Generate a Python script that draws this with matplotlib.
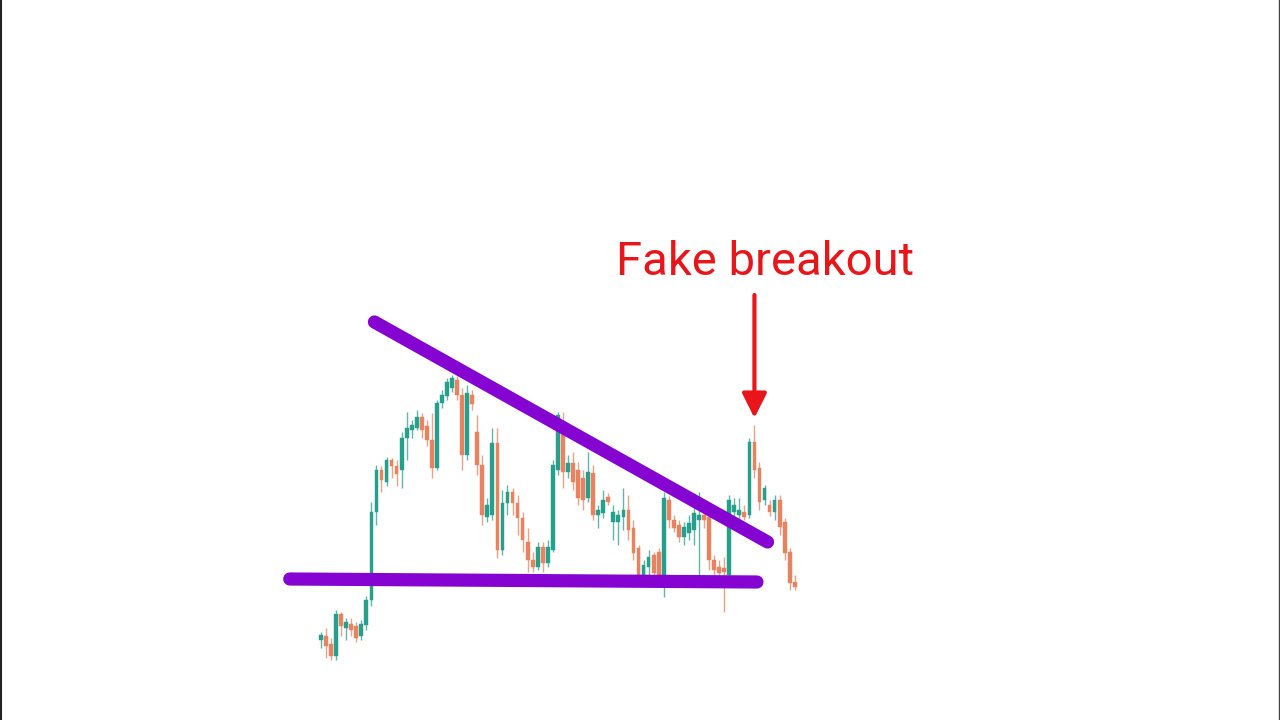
import matplotlib
matplotlib.use("Agg")
import matplotlib.pyplot as plt
import numpy as np

# ---- candle data (price units) ----
opens = [80, 84, 76, 64, 106, 92, 96, 94, 84, 95, 120, 208, 250, 238, 260, 254, 250, 282, 290, 292,
         303, 294, 280, 252, 317, 324, 332, 340, 325, 265, 325, 288, 255, 203, 205, 277, 170, 217, 228, 217,
         202, 178, 160, 153, 173, 157, 170, 250, 288, 248, 257, 250, 242, 222, 247, 205, 207, 223, 198, 198,
         203, 210, 192, 172, 145, 153, 165, 168, 145, 220, 200, 195, 183, 187, 190, 200, 205, 203, 160, 153,
         152, 145, 208, 205, 208, 205, 278, 252, 220, 215, 208, 220, 198, 168, 138]
closes = [85, 74, 64, 106, 94, 98, 90, 82, 96, 120, 208, 250, 240, 260, 254, 246, 282, 292, 295, 303,
          290, 280, 252, 317, 325, 338, 342, 325, 265, 327, 316, 255, 205, 215, 277, 170, 217, 228, 217, 202,
          180, 160, 153, 173, 157, 173, 255, 305, 248, 257, 238, 222, 220, 248, 205, 210, 220, 218, 208, 205,
          210, 190, 167, 145, 155, 163, 147, 145, 222, 200, 192, 183, 193, 197, 207, 205, 200, 160, 150, 147,
          148, 220, 215, 210, 203, 278, 250, 218, 232, 208, 220, 193, 167, 137, 133]
highs = [88, 92, 82, 110, 108, 102, 102, 98, 100, 124, 218, 255, 254, 263, 262, 260, 288, 308, 300, 310,
         307, 300, 307, 320, 330, 342, 345, 344, 332, 335, 330, 305, 265, 222, 292, 292, 230, 235, 232, 225,
         208, 192, 168, 178, 178, 180, 260, 308, 308, 265, 268, 258, 250, 268, 255, 215, 230, 227, 215, 210,
         232, 225, 200, 175, 160, 170, 168, 172, 228, 224, 205, 200, 198, 205, 215, 228, 212, 208, 165, 160,
         163, 225, 222, 222, 215, 282, 295, 258, 235, 220, 225, 225, 202, 172, 145]
lows = [72, 62, 60, 60, 84, 80, 84, 78, 80, 90, 114, 195, 228, 234, 242, 234, 232, 260, 282, 290,
        282, 274, 242, 250, 312, 320, 328, 320, 250, 260, 310, 245, 195, 198, 200, 162, 165, 205, 205, 185,
        168, 148, 148, 150, 148, 153, 168, 245, 232, 242, 230, 215, 210, 218, 200, 192, 202, 215, 180, 175,
        190, 180, 160, 142, 142, 145, 142, 140, 123, 192, 188, 178, 175, 180, 175, 143, 192, 150, 145, 142,
        108, 142, 202, 200, 200, 202, 242, 210, 215, 204, 200, 185, 160, 130, 130]

# ---- trendlines (index, price) ----
upper_x = [10.6, 88.6]
upper_y = [398, 178]
lower_x = [-6.2, 86.5]
lower_y = [141, 138]

label_text = "Fake breakout"
breakout_idx = 86

GREEN = "#26a08c"
RED = "#e8825f"
PURPLE = "#8504d2"
ARROW_RED = "#e8161b"

fig = plt.figure(figsize=(12.8, 7.2), dpi=100)
ax = fig.add_axes([0, 0, 1, 1])
ax.set_xlim(-321 / 5.04, (1280 - 321) / 5.04)
ax.set_ylim(0, 720)
ax.axis("off")

idx = np.arange(len(opens))
o = np.array(opens); c = np.array(closes); h = np.array(highs); l = np.array(lows)
up = c >= o
colors = np.where(up, GREEN, RED)

ax.vlines(idx, l, h, colors=colors, linewidth=1.0, alpha=0.75, zorder=2)
ax.bar(idx, np.maximum(np.abs(c - o), 1.5), bottom=np.minimum(o, c), width=0.75,
       color=colors, edgecolor=colors, linewidth=0.3, zorder=3)

ax.plot(upper_x, upper_y, color=PURPLE, linewidth=9.5, solid_capstyle="round", zorder=4)
ax.plot(lower_x, lower_y, color=PURPLE, linewidth=9.5, solid_capstyle="round", zorder=4)

tip_y = highs[breakout_idx] + 7
ax.annotate("", xy=(breakout_idx, tip_y), xytext=(breakout_idx, tip_y + 123),
            arrowprops=dict(arrowstyle="-|>,head_length=1.5,head_width=0.75",
                            color=ARROW_RED, lw=3, shrinkA=0, shrinkB=0), zorder=5)

ax.text(765, 720 - 275, label_text, transform=None, fontsize=34, color=ARROW_RED,
        family=["Roboto", "DejaVu Sans"], ha="center", va="baseline")

# thin frame at figure edges
fig.add_artist(plt.Line2D([0.0008, 0.0008], [0, 1], color="#222222", linewidth=1.5,
                          transform=fig.transFigure))
fig.add_artist(plt.Line2D([0.9992, 0.9992], [0, 1], color="#444444", linewidth=1.0,
                          transform=fig.transFigure))

fig.savefig("out.png", dpi=100, facecolor="white")
